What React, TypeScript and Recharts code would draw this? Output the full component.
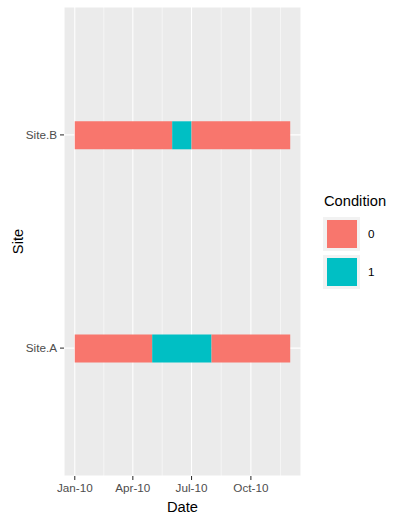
import React from "react";
import { BarChart, Bar, XAxis, YAxis, CartesianGrid, Cell } from "recharts";

// monthly readings (first of each month, 2010)
const monthDates = [
  "2010-01-01", "2010-02-01", "2010-03-01", "2010-04-01", "2010-05-01", "2010-06-01",
  "2010-07-01", "2010-08-01", "2010-09-01", "2010-10-01", "2010-11-01", "2010-12-01",
];
const siteNames = ["Site.B", "Site.A"];
const siteBCondition = [0, 0, 0, 0, 0, 1, 0, 0, 0, 0, 0, 0];
const siteACondition = [0, 0, 0, 0, 1, 1, 1, 0, 0, 0, 0, 0];
const tickDates = ["2010-01-01", "2010-04-01", "2010-07-01", "2010-10-01"];
const tickLabels = ["Jan-10", "Apr-10", "Jul-10", "Oct-10"];
const conditionColors = ["#F8766D", "#00BFC4"];
const conditionLabels = ["0", "1"];

const DAY = 86400000;
const origin = Date.UTC(2010, 0, 1);
const toDay = (s: string) => {
  const [y, m, d] = s.split("-").map(Number);
  return (Date.UTC(y, m - 1, d) - origin) / DAY;
};

const days = monthDates.map(toDay);
const ticks = tickDates.map(toDay);
const tickText: Record<number, string> = {};
ticks.forEach((t, i) => (tickText[t] = tickLabels[i]));

// minor breaks sit halfway between the majors (ggplot style)
const step = ticks[ticks.length - 1] - ticks[ticks.length - 2];
const minorDays = [
  ...ticks.slice(1).map((t, i) => (t + ticks[i]) / 2),
  ticks[ticks.length - 1] + step / 2,
];

const minDay = days[0];
const maxDay = days[days.length - 1];
const pad = (maxDay - minDay) * 0.05;
const xDomain = [minDay - pad, maxDay + pad];

// turn monthly points into runs of the same condition
const toRuns = (cond: number[]) => {
  const runs: { len: number; c: number }[] = [];
  for (let i = 0; i < cond.length - 1; i++) {
    const len = days[i + 1] - days[i];
    const last = runs[runs.length - 1];
    if (last && last.c === cond[i]) last.len += len;
    else runs.push({ len, c: cond[i] });
  }
  return runs;
};

const siteRuns = [toRuns(siteBCondition), toRuns(siteACondition)];
const runCount = Math.max(...siteRuns.map((r) => r.length));
const data = siteNames.map((site, i) => {
  const row: any = { site };
  siteRuns[i].forEach((r, k) => {
    row[`r${k}`] = r.len;
    row[`c${k}`] = r.c;
  });
  return row;
});

const axisText = { fill: "#4D4D4D", fontSize: 11.7, fontFamily: "Liberation Sans, Arial, sans-serif" };

const minorLines = (p: any) => {
  const sc = p?.xAxis?.scale;
  if (typeof sc === "function") return minorDays.map((d) => sc(d));
  const { left, width } = p.offset;
  return minorDays.map((d) => left + ((d - xDomain[0]) / (xDomain[1] - xDomain[0])) * width);
};

const SiteLabel = (props: any) => {
  const { viewBox } = props;
  const cx = 18;
  const cy = viewBox.y + viewBox.height / 2;
  return (
    <text
      x={cx}
      y={cy}
      transform={`rotate(-90, ${cx}, ${cy})`}
      textAnchor="middle"
      dominantBaseline="central"
      fontSize={14.7}
      fontFamily="Liberation Sans, Arial, sans-serif"
      fill="#000"
    >
      Site
    </text>
  );
};

const App = () => {
  return (
    <div style={{ position: "relative", width: 399, height: 523, background: "#fff" }}>
      <style>{`body{margin:0}`}</style>
      <BarChart
        width={399}
        height={523}
        data={data}
        layout="vertical"
        margin={{ top: 7, right: 98, bottom: 0, left: 0 }}
      >
        <CartesianGrid fill="#EBEBEB" stroke="#FFFFFF" strokeWidth={1.07} />
        <CartesianGrid
          fill="none"
          stroke="#FFFFFF"
          strokeWidth={0.53}
          horizontal={false}
          verticalCoordinatesGenerator={minorLines}
        />
        <XAxis
          type="number"
          domain={xDomain}
          allowDataOverflow
          ticks={ticks}
          tickFormatter={(v: number) => tickText[v] ?? ""}
          tick={axisText}
          tickSize={4}
          tickMargin={4}
          axisLine={false}
          tickLine={{ stroke: "#333333", strokeWidth: 1.07 }}
          height={47}
          label={{
            value: "Date",
            position: "insideBottom",
            offset: 11,
            fill: "#000",
            fontSize: 14.7,
            fontFamily: "Liberation Sans, Arial, sans-serif",
          }}
        />
        <YAxis
          type="category"
          dataKey="site"
          width={64}
          padding={{ top: 21.3, bottom: 21.3 }}
          tick={axisText}
          tickSize={4}
          tickMargin={3}
          axisLine={false}
          tickLine={{ stroke: "#333333", strokeWidth: 1.07 }}
          label={{ content: <SiteLabel /> }}
        />
        {Array.from({ length: runCount }, (_, k) => (
          <Bar key={k} dataKey={`r${k}`} stackId="a" barSize={28} isAnimationActive={false}>
            {data.map((row, i) => (
              <Cell key={i} fill={conditionColors[row[`c${k}`]]} />
            ))}
          </Bar>
        ))}
      </BarChart>
      <div
        style={{
          position: "absolute",
          left: 324,
          top: 193,
          fontFamily: "Liberation Sans, Arial, sans-serif",
          fontSize: 14.7,
          color: "#000",
          lineHeight: "17px",
        }}
      >
        Condition
      </div>
      {conditionColors.map((c, i) => (
        <div key={i}>
          <div
            style={{
              position: "absolute",
              left: 323,
              top: 217 + i * 38,
              width: 37,
              height: 34,
              background: "#F2F2F2",
            }}
          >
            <div style={{ position: "absolute", left: 4, top: 3, width: 30, height: 28, background: c }} />
          </div>
          <div
            style={{
              position: "absolute",
              left: 368,
              top: 226 + i * 38,
              fontFamily: "Liberation Sans, Arial, sans-serif",
              fontSize: 11.7,
              lineHeight: "16px",
              color: "#000",
            }}
          >
            {conditionLabels[i]}
          </div>
        </div>
      ))}
    </div>
  );
};

export default App;
